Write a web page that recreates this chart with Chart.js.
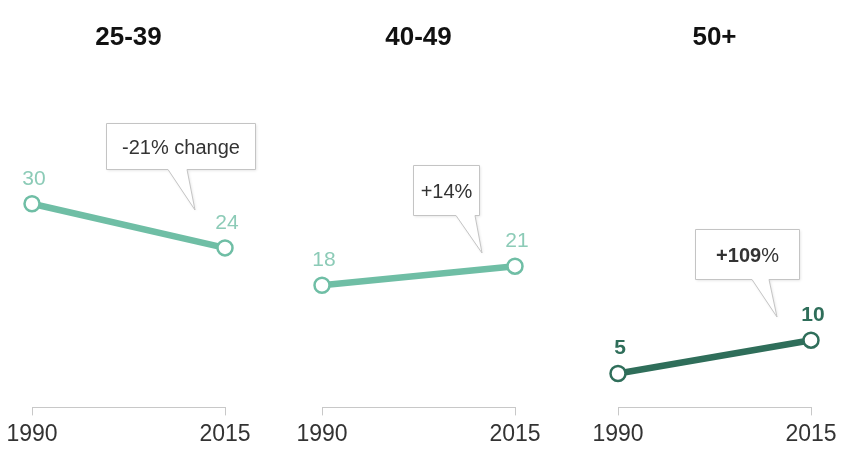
<!DOCTYPE html>
<html>
<head>
<meta charset="utf-8">
<script src="https://cdn.jsdelivr.net/npm/chart.js@4.4.1/dist/chart.umd.min.js"></script>
<style>
  html,body{margin:0;padding:0;background:#fff;}
  #wrap{position:relative;width:847px;height:465px;overflow:hidden;background:#fff;}
  .panel{position:absolute;top:0;width:261px;height:465px;}
</style>
</head>
<body>
<div id="wrap">
  <div class="panel" style="left:0px"><canvas id="c0" width="261" height="465"></canvas></div>
  <div class="panel" style="left:290px"><canvas id="c1" width="261" height="465"></canvas></div>
  <div class="panel" style="left:586px"><canvas id="c2" width="261" height="465"></canvas></div>
</div>
<script>
// ---- data ----
const years = ['1990', '2015'];
const groups = ['25-39', '40-49', '50+'];
const values2539 = [30.0, 23.5];
const values4049 = [18.0, 20.8];
const values50plus = [5.0, 9.9];
const changeLabels = ['-21% change', '+14%', '+109%'];

const FONT = "'Liberation Sans', Arial, sans-serif";
const LIGHT_LINE = '#6fbea5';
const LIGHT_TEXT = '#8ccbb7';
const DARK_LINE = '#2f6e5a';
const DARK_TEXT = '#2f6e5a';

const valueLabelPlugin = {
  id: 'valueLabels',
  afterDatasetsDraw(chart, args, opts) {
    const ctx = chart.ctx;
    const ds = chart.data.datasets[0];
    const meta = chart.getDatasetMeta(0);
    ctx.save();
    ctx.font = (opts.bold ? 'bold ' : '') + opts.size + 'px ' + FONT;
    ctx.fillStyle = opts.color;
    ctx.textAlign = 'center';
    ctx.textBaseline = 'alphabetic';
    meta.data.forEach((pt, i) => {
      ctx.fillText(String(Math.round(ds.data[i])), pt.x + 2, pt.y - 19);
    });
    ctx.restore();
  }
};

const calloutPlugin = {
  id: 'callout',
  afterDraw(chart, args, o) {
    const ctx = chart.ctx;
    const [l, t, r, b] = o.box;
    ctx.save();
    ctx.shadowColor = 'rgba(0,0,0,0.12)';
    ctx.shadowBlur = 3;
    ctx.shadowOffsetX = 1;
    ctx.shadowOffsetY = 1;
    ctx.fillStyle = '#fff';
    ctx.beginPath();
    ctx.moveTo(l, t); ctx.lineTo(r, t); ctx.lineTo(r, b);
    ctx.lineTo(o.tail[1], b); ctx.lineTo(o.tip[0], o.tip[1]); ctx.lineTo(o.tail[0], b);
    ctx.lineTo(l, b); ctx.closePath();
    ctx.fill();
    ctx.shadowColor = 'transparent';
    ctx.strokeStyle = '#c4c4c4';
    ctx.lineWidth = 1;
    ctx.stroke();
    const m = o.text.match(/^([+-]?\d+)(.*)$/);
    const numPart = m ? m[1] : o.text;
    const rest = m ? m[2] : '';
    const fNum = (o.boldNumber ? 'bold ' : '') + o.size + 'px ' + FONT;
    const fRest = o.size + 'px ' + FONT;
    ctx.font = fNum; const w1 = ctx.measureText(numPart).width;
    ctx.font = fRest; const w2 = ctx.measureText(rest).width;
    let x = (l + r) / 2 - (w1 + w2) / 2;
    const y = (t + b) / 2 + o.size * 0.36;
    ctx.fillStyle = '#333';
    ctx.textBaseline = 'alphabetic';
    ctx.textAlign = 'left';
    ctx.font = fNum; ctx.fillText(numPart, x, y);
    ctx.font = fRest; ctx.fillText(rest, x + w1, y);
    ctx.restore();
  }
};

function makeChart(id, title, values, lineColor, textColor, bold, callout) {
  return new Chart(document.getElementById(id), {
    type: 'line',
    data: {
      labels: years,
      datasets: [{
        data: values,
        borderColor: lineColor,
        borderWidth: 6.5,
        pointRadius: 7.5,
        pointHoverRadius: 7.5,
        pointBorderWidth: 2.5,
        pointBackgroundColor: '#fff',
        pointBorderColor: lineColor,
        tension: 0,
        clip: false
      }]
    },
    options: {
      responsive: false,
      animation: false,
      events: [],
      layout: { padding: { left: 32, right: 36, top: 0, bottom: 12 } },
      scales: {
        x: {
          type: 'category',
          offset: false,
          grid: { display: true, drawOnChartArea: false, drawTicks: true, tickLength: 8, color: '#c8c8c8', lineWidth: 1 },
          border: { display: true, color: '#c8c8c8', width: 1 },
          ticks: { color: '#333', font: { family: FONT, size: 23 }, padding: 5, maxRotation: 0, autoSkip: false }
        },
        y: {
          display: false,
          min: 0,
          max: 51
        }
      },
      plugins: {
        legend: { display: false },
        tooltip: { enabled: false },
        title: {
          display: true,
          text: title,
          color: '#111',
          font: { family: FONT, size: 26, weight: 'bold' },
          padding: { top: 22, bottom: 8 }
        },
        valueLabels: { color: textColor, size: 21, bold: bold },
        callout: callout
      }
    },
    plugins: [valueLabelPlugin, calloutPlugin]
  });
}

makeChart('c0', groups[0], values2539, LIGHT_LINE, LIGHT_TEXT, false,
  { box: [106.5, 123.5, 255.5, 169.5], tail: [168, 187], tip: [195, 210], text: changeLabels[0], size: 20, boldNumber: false });
makeChart('c1', groups[1], values4049, LIGHT_LINE, LIGHT_TEXT, false,
  { box: [123.5, 165.5, 189.5, 215.5], tail: [166, 185], tip: [192, 253], text: changeLabels[1], size: 20, boldNumber: false });
makeChart('c2', groups[2], values50plus, DARK_LINE, DARK_TEXT, true,
  { box: [109.5, 229.5, 213.5, 279.5], tail: [166, 183], tip: [191, 317], text: changeLabels[2], size: 20, boldNumber: true });
</script>
</body>
</html>
